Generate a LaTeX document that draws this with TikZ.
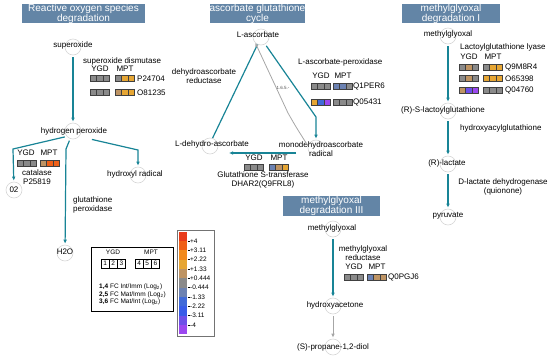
\documentclass[tikz,border=0pt]{standalone}
\usepackage{fontspec}
\setmainfont{Liberation Sans}
\usetikzlibrary{positioning,arrows.meta}
\definecolor{pathteal}{RGB}{24,132,150}
\definecolor{titlebg}{RGB}{99,133,166}
\definecolor{ringgray}{RGB}{214,214,214}
% heat map colours, from +4 down to -4
\definecolor{hA}{RGB}{232,58,26}
\definecolor{hB}{RGB}{240,96,24}
\definecolor{hC}{RGB}{242,138,28}
\definecolor{hD}{RGB}{230,166,52}
\definecolor{hE}{RGB}{190,148,100}
\definecolor{hF}{RGB}{138,138,138}
\definecolor{hG}{RGB}{108,130,178}
\definecolor{hH}{RGB}{64,106,216}
\definecolor{hI}{RGB}{56,92,232}
\definecolor{hJ}{RGB}{110,80,232}
\definecolor{hK}{RGB}{156,72,240}
\newcommand{\lblfont}{\fontsize{8}{9}\selectfont}
\newcommand{\ttlfont}{\fontsize{10}{10}\selectfont}
\newcommand{\keyfont}{\fontsize{6.5}{7.5}\selectfont}
\newcommand{\heatrow}[4]{%
  \foreach \hc [count=\hi from 0] in {#4}
    \node[hcell, fill=\hc] (#1-\hi) at ({#2+\hi*6.4},#3) {};
}
\tikzset{
  flow/.style={draw=pathteal, line width=1.2pt, -{Latex[length=4pt,width=3.6pt]}, shorten <=2pt, shorten >=1pt},
  grayflow/.style={draw=black!35, line width=1pt, -{Latex[length=4pt,width=3.6pt]}, shorten <=2pt, shorten >=1pt},
  ring/.style={circle, draw=ringgray, line width=0.6pt, minimum size=16pt, inner sep=0pt},
  metab/.style={font=\lblfont, inner sep=1pt, align=center},
  enzlabel/.style={font=\lblfont, inner sep=0pt, align=center},
  titlebox/.style={fill=titlebg, text=white, font=\ttlfont, align=center, inner sep=0pt},
  hcell/.style={draw=black!75, line width=0.5pt, minimum width=6.4pt, minimum height=6.4pt, inner sep=0pt, anchor=west},
  keycell/.style={draw, line width=0.9pt, minimum width=8.2pt, minimum height=9pt, inner sep=0pt, font=\keyfont},
  keytext/.style={font=\keyfont, inner sep=0pt, anchor=west}
}
\begin{document}
\begin{tikzpicture}[x=1pt, y=-1pt, >=Latex]
\useasboundingbox (0,0) rectangle (550,357);

% title bars
\node[titlebox, minimum width=123pt, minimum height=19pt] (t-ros) at (83.5,13.5) {Reactive oxygen species\\degradation};
\node[titlebox, minimum width=95pt, minimum height=19pt] (t-asc) at (257.5,13.5) {ascorbate glutathione\\cycle};
\node[titlebox, minimum width=98pt, minimum height=19pt] (t-mg1) at (451,13.5) {methylglyoxal\\degradation I};
\node[titlebox, minimum width=97pt, minimum height=20pt] (t-mg3) at (331.5,206) {methylglyoxal\\degradation III};

% metabolite rings
\foreach \nm/\px/\py in {so/73/47, hp/73/131, o2/14/190, h2o/65/253, oh/138/175,
    asc/261/37, dha/210/146, mda/316/148,
    mg1/448/36, lgsh/448/111, rlac/448/164, pyr/448/217,
    mg3/333/229, hyac/333/306, prop/333/347}
  \node[ring] (c-\nm) at (\px,\py) {};

% metabolites
\node[metab] (so) at (73,45) {superoxide};
\node[metab] (hp) at (74,131) {hydrogen peroxide};
\node[metab] (o2) at (14,190) {02};
\node[metab] (h2o) at (65,252) {H2O};
\node[metab] (oh) at (135,174) {hydroxyl radical};
\node[metab] (asc) at (258,35) {L-ascorbate};
\node[metab] (dha) at (212,144) {L-dehydro-ascorbate};
\node[metab] (mda) at (321,149) {monodehydroascorbate\\radical};
\node[metab] (mg1) at (448,34) {methylglyoxal};
\node[metab] (lgsh) at (443,110) {(R)-S-lactoylglutathione};
\node[metab] (rlac) at (447,163) {(R)-lactate};
\node[metab] (pyr) at (448,216) {pyruvate};
\node[metab] (mg3) at (332,228) {methylglyoxal};
\node[metab] (hyac) at (335,305) {hydroxyacetone};
\node[metab] (prop) at (333,347) {(S)-propane-1,2-diol};

% reactive oxygen species
\coordinate (hp-out) at (90,139);
\draw[flow] (c-so) -- (c-hp);
\draw[flow] (c-hp.221) -- (13,149) -- (c-o2);
\draw[flow] (c-hp.250) -- (66,149) -- (c-h2o);
\draw[flow] (hp-out) -- (138,150) -- (c-oh);

\node[enzlabel, anchor=west] (sod) at (83,61) {superoxide dismutase};
\node[enzlabel] (sod-y) at (100,69) {YGD};
\node[enzlabel] (sod-m) at (125,69) {MPT};
\heatrow{p247y}{90}{78.5}{hF,hF,hF}
\heatrow{p247m}{115}{78.5}{hF,hD,hD}
\node[enzlabel, anchor=west] (p247) at (137,78.5) {P24704};
\heatrow{o812y}{90}{92.5}{hF,hF,hF}
\heatrow{o812m}{115}{92.5}{hE,hD,hD}
\node[enzlabel, anchor=west] (o812) at (137,92.5) {O81235};

\node[enzlabel] (cat-y) at (26,153) {YGD};
\node[enzlabel] (cat-m) at (49,153) {MPT};
\heatrow{caty}{17}{163}{hF,hF,hF}
\heatrow{catm}{40}{163}{hE,hB,hB}
\node[enzlabel] (cat) at (37,177) {catalase\\P25819};
\node[enzlabel, anchor=west, align=left] (gpx) at (73,205) {glutathione\\peroxidase};

% ascorbate glutathione cycle
\coordinate (mda-out) at (298,153);
\coordinate (dha-in) at (228,153);
\draw[pathteal, line width=1.2pt] (c-asc.245) -- (c-dha.72);
\draw[flow] (c-asc.-60) -- (316,117) -- (c-mda);
\draw[black!35, line width=0.8pt, {Triangle[open,length=3.5pt,width=3pt]}-] (c-asc.228) -- (288,113) .. controls (296,127) .. (c-mda.165);
\draw[flow] (mda-out) -- (dha-in);
\node[font=\fontsize{4.5}{5}\selectfont, text=black!70, inner sep=0pt] (ec) at (283,88) {1.6.5.-};

\node[enzlabel] (dhar) at (204,76) {dehydroascorbate\\reductase};
\node[enzlabel, anchor=west] (apx) at (298,62) {L-ascorbate-peroxidase};
\node[enzlabel] (apx-y) at (321,76) {YGD};
\node[enzlabel] (apx-m) at (343,76) {MPT};
\heatrow{q1py}{311}{86}{hF,hF,hF}
\heatrow{q1pm}{333}{86}{hG,hG,hF}
\node[enzlabel, anchor=west] (q1p) at (353,86) {Q1PER6};
\heatrow{q054y}{311}{102}{hD,hH,hK}
\heatrow{q054m}{333}{102}{hF,hF,hF}
\node[enzlabel, anchor=west] (q054) at (353,102) {Q05431};

\node[enzlabel] (gst-y) at (254,158) {YGD};
\node[enzlabel] (gst-m) at (279,158) {MPT};
\heatrow{gsty}{244}{167}{hF,hF,hF}
\heatrow{gstm}{269}{167}{hG,hE,hD}
\node[enzlabel] (gst) at (263,179.5) {Glutathione S-transferase\\DHAR2(Q9FRL8)};

% methylglyoxal degradation I
\draw[flow] (c-mg1) -- (c-lgsh);
\draw[flow] (c-lgsh) -- (c-rlac);
\draw[flow] (c-rlac) -- (c-pyr);
\node[enzlabel, anchor=west] (lgl) at (460,47) {Lactoylglutathione lyase};
\node[enzlabel] (lgl-y) at (469,57) {YGD};
\node[enzlabel] (lgl-m) at (493,57) {MPT};
\heatrow{q9my}{459}{67}{hF,hE,hF}
\heatrow{q9mm}{483}{67}{hF,hD,hD}
\node[enzlabel, anchor=west] (q9m) at (505,67) {Q9M8R4};
\heatrow{o653y}{459}{78.5}{hF,hE,hF}
\heatrow{o653m}{483}{78.5}{hD,hD,hD}
\node[enzlabel, anchor=west] (o653) at (505,78.5) {O65398};
\heatrow{q047y}{459}{90}{hE,hJ,hK}
\heatrow{q047m}{483}{90}{hF,hF,hF}
\node[enzlabel, anchor=west] (q047) at (505,90) {Q04760};
\node[enzlabel, anchor=west] (hag) at (460,128) {hydroxyacylglutathione};
\node[enzlabel] (dld) at (503,187) {D-lactate dehydrogenase\\(quionone)};

% methylglyoxal degradation III
\draw[flow] (c-mg3) -- (c-hyac);
\draw[grayflow] (c-hyac) -- (c-prop);
\node[enzlabel] (mgr) at (363,253) {methylglyoxal\\reductase};
\node[enzlabel] (mgr-y) at (354,267) {YGD};
\node[enzlabel] (mgr-m) at (377,267) {MPT};
\heatrow{q0py}{344}{277}{hF,hF,hF}
\heatrow{q0pm}{367}{277}{hG,hE,hE}
\node[enzlabel, anchor=west] (q0p) at (388,277) {Q0PGJ6};

% legend
\node[draw, line width=0.9pt, minimum width=82pt, minimum height=64pt, inner sep=0pt] (key) at (132,279) {};
\node[font=\keyfont, inner sep=0pt] (key-y) at (113,252) {YGD};
\node[font=\keyfont, inner sep=0pt] (key-m) at (151,252) {MPT};
\foreach \n [count=\i from 0] in {1,2,3}
  \node[keycell] (key-\n) at ({105.1+\i*8.2},263.5) {\n};
\foreach \n [count=\i from 0] in {4,5,6}
  \node[keycell] (key-\n) at ({139.1+\i*8.2},263.5) {\n};
\node[keytext] (key-l1) at (99,287) {\textbf{1,4} FC Int/Imm (Log\textsubscript{2})};
\node[keytext] (key-l2) at (99,294.5) {\textbf{2,5} FC Mat/Imm (Log\textsubscript{2})};
\node[keytext] (key-l3) at (99,302) {\textbf{3,6} FC Mat/Int (Log\textsubscript{2})};

% colour scale
\node[draw=black!55, line width=1pt, minimum width=36.5pt, minimum height=105.5pt, inner sep=0pt] (scale) at (196,283.3) {};
\foreach \c [count=\i from 0] in {hA,hB,hC,hD,hE,hF,hG,hH,hI,hJ,hK}
  \node[fill=\c, minimum width=8pt, minimum height=9.33pt, inner sep=0pt] (sc-\i) at (183.3,{231.7+9.33*(\i+0.5)}) {};
\foreach \lab [count=\i] in {+4,+3.11,+2.22,+1.33,+0.444,-0.444,-1.33,-2.22,-3.11,-4} {
  \draw[line width=0.4pt] (187.5,{231.7+9.33*\i}) -- (189.5,{231.7+9.33*\i});
  \node[keytext] (sl-\i) at (190,{231.7+9.33*\i}) {\lab};
}
\end{tikzpicture}
\end{document}
